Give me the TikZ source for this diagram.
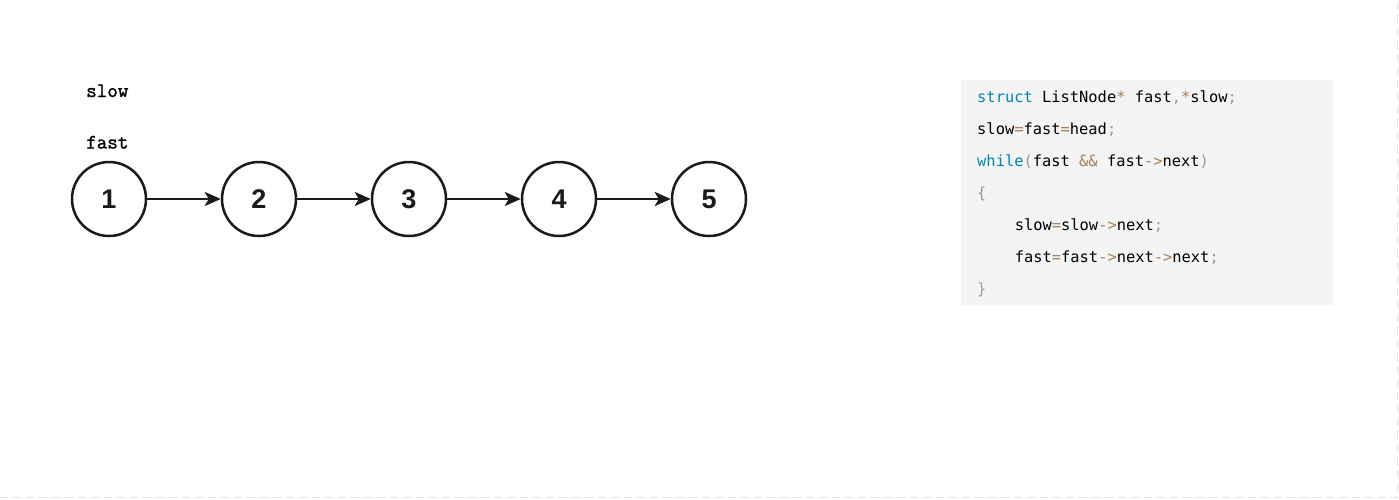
\documentclass[tikz,border=0pt]{standalone}
\usepackage{fontspec}
\setmainfont{Liberation Sans}
\newfontfamily\labmono[AutoFakeBold=1.2]{Latin Modern Mono}
\newfontfamily\codemono{DejaVu Sans Mono}
\usetikzlibrary{arrows.meta}
\definecolor{kwc}{HTML}{0086B3}
\definecolor{opc}{HTML}{A67F59}
\definecolor{puc}{HTML}{999999}
\definecolor{codebg}{HTML}{F4F4F4}
\definecolor{ink}{HTML}{1A1A1A}
\definecolor{frame}{HTML}{E2E2E2}
\newcommand{\kw}[1]{\textcolor{kwc}{#1}}
\newcommand{\opx}[1]{\textcolor{opc}{#1}}
\newcommand{\pux}[1]{\textcolor{puc}{#1}}
\begin{document}
\begin{tikzpicture}[x=1pt,y=-1pt,
  listnode/.style={circle,draw=ink,line width=2.5pt,minimum size=74pt,inner sep=0pt,
    font=\fontsize{27}{27}\selectfont\bfseries,text=ink},
  link/.style={draw=ink,line width=2.6pt,-{Stealth[length=16pt,width=14pt,inset=4pt]}},
  ptrlabel/.style={anchor=base west,inner sep=0pt,font=\labmono\fontsize{20.5}{20.5}\selectfont\bfseries},
  codeline/.style={anchor=base west,inner sep=0pt,font=\codemono\fontsize{15.4}{15.4}\selectfont}]
\useasboundingbox (0,0) rectangle (1399,499);
\fill[white] (0,0) rectangle (1399,499);
\draw[frame,line width=1pt,dash pattern=on 8pt off 5pt] (0,497.5) -- (1397.5,497.5) -- (1397.5,0);
% labels
\node[ptrlabel] (slow) at (86,97) {slow};
\node[ptrlabel] (fast) at (86,148.5) {fast};
% list
\node[listnode] (n1) at (109,199) {1};
\node[listnode] (n2) at (259,199) {2};
\node[listnode] (n3) at (409,199) {3};
\node[listnode] (n4) at (559,199) {4};
\node[listnode] (n5) at (709,199) {5};
\draw[link] (n1) -- (n2);
\draw[link] (n2) -- (n3);
\draw[link] (n3) -- (n4);
\draw[link] (n4) -- (n5);
% code
\fill[codebg] (961,80) rectangle (1333,305);
\node[codeline] (c1) at (977,102) {\kw{struct} ListNode\opx{*} fast\pux{,}\opx{*}slow\pux{;}};
\node[codeline] (c2) at (977,134) {slow\opx{=}fast\opx{=}head\pux{;}};
\node[codeline] (c3) at (977,166) {\kw{while}\pux{(}fast \opx{\&\&} fast\opx{->}next\pux{)}};
\node[codeline] (c4) at (977,198) {\pux{\{}};
\node[codeline] (c5) at (1014.6,230) {slow\opx{=}slow\opx{->}next\pux{;}};
\node[codeline] (c6) at (1014.6,262) {fast\opx{=}fast\opx{->}next\opx{->}next\pux{;}};
\node[codeline] (c7) at (977,294) {\pux{\}}};
\end{tikzpicture}
\end{document}
